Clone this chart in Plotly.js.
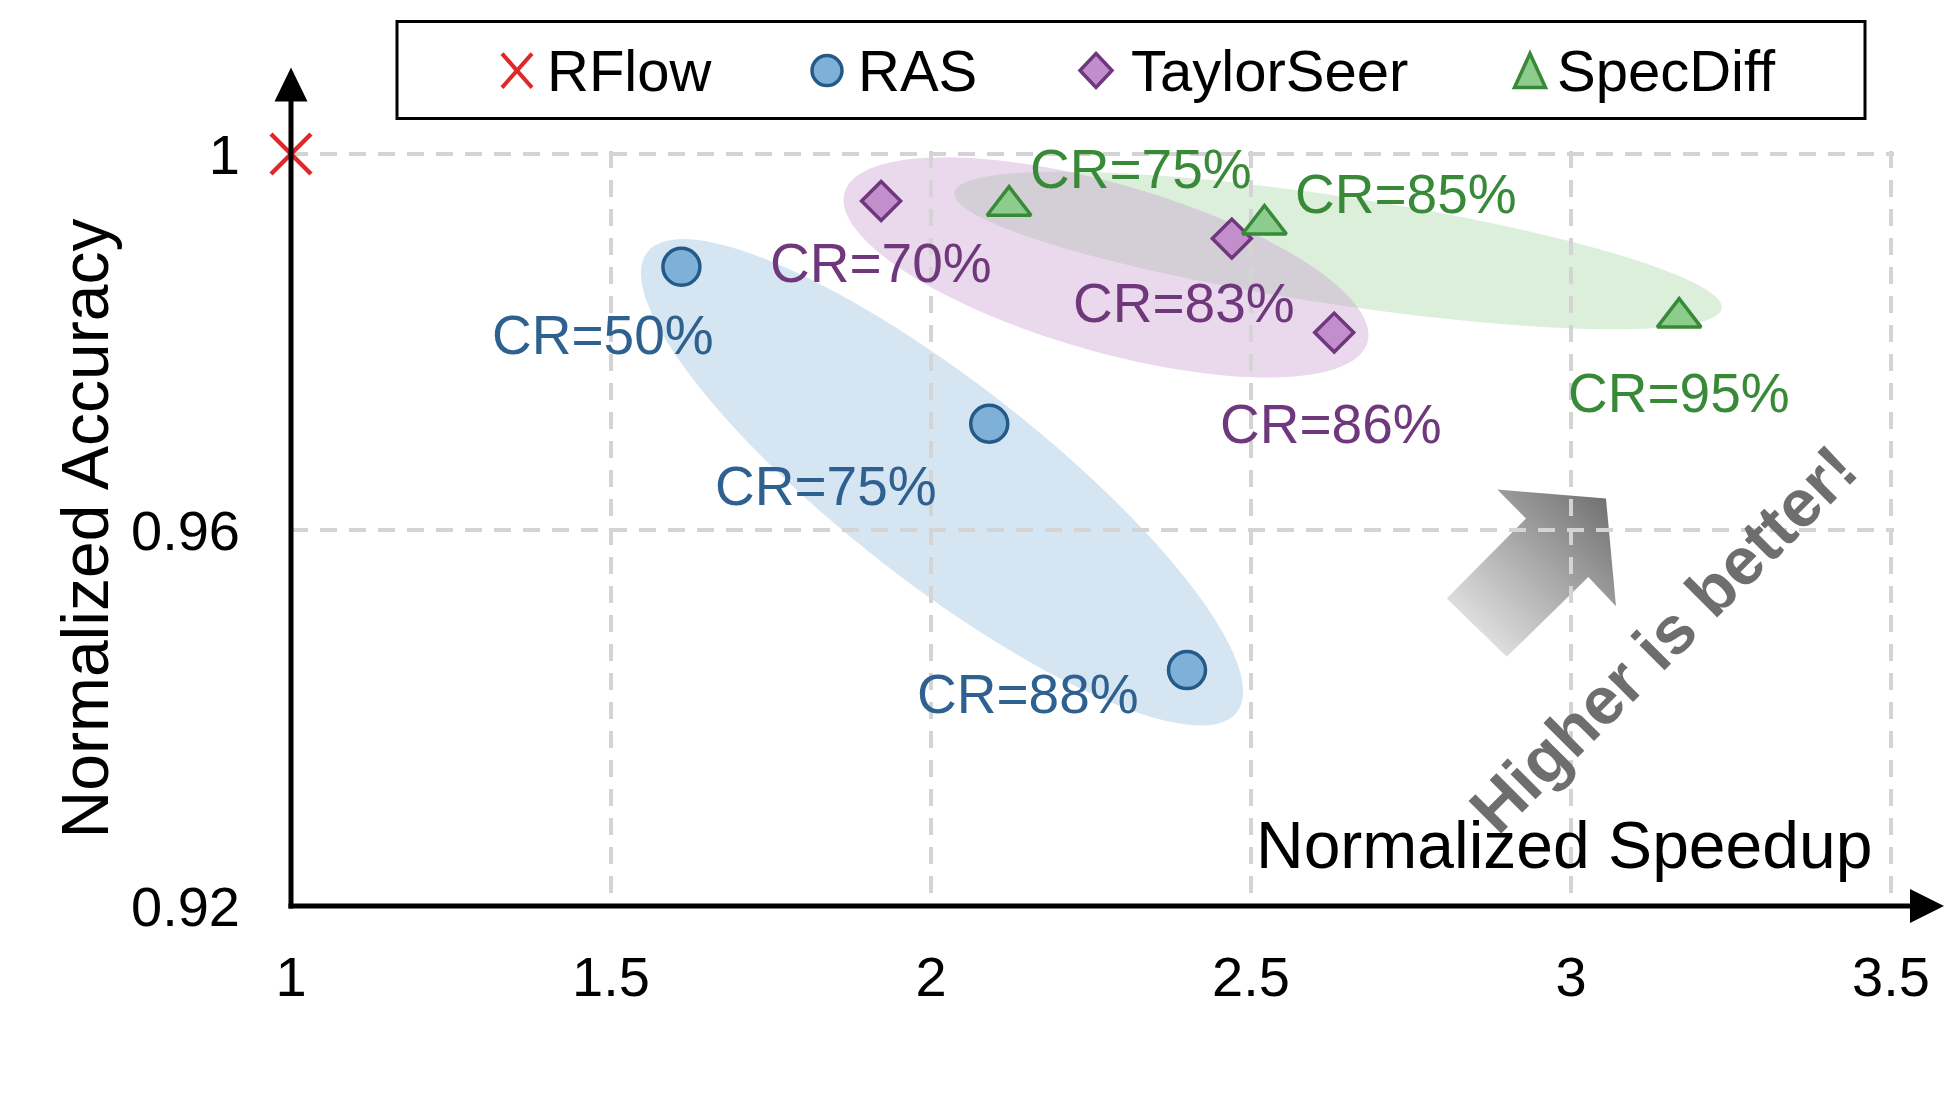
<!DOCTYPE html>
<html><head><meta charset="utf-8">
<script src="https://cdn.plot.ly/plotly-3.0.1.min.js"></script>
<style>html,body{margin:0;padding:0;background:#fff}#chart{width:1960px;height:1120px}</style>
</head><body><div id="chart"></div>
<script>
// ---------------- data ----------------
const seriesNames = ["RFlow", "RAS", "TaylorSeer", "SpecDiff"];
const rflowX = [1];
const rflowY = [1];
const rasX = [1.610, 2.091, 2.400];
const rasY = [0.9880, 0.9713, 0.9451];
const rasLabels = ["CR=50%", "CR=75%", "CR=88%"];
const tsX = [1.922, 2.470, 2.630];
const tsY = [0.9950, 0.9910, 0.9810];
const tsLabels = ["CR=70%", "CR=83%", "CR=86%"];
const sdX = [2.122, 2.521, 3.169];
const sdY = [0.9945, 0.9925, 0.9826];
const sdLabels = ["CR=75%", "CR=85%", "CR=95%"];
const xTicks = [1, 1.5, 2, 2.5, 3, 3.5];
const xTickText = ["1", "1.5", "2", "2.5", "3", "3.5"];
const yTicks = [0.92, 0.96, 1];
const yTickText = ["0.92", "0.96", "1"];

// ---------------- layout constants (styles / positions) ----------------
const FONT = 'Arial, "Liberation Sans", Helvetica, sans-serif';
const W = 1960, H = 1120;
// axis scale: x 1 -> 291px, 3.5 -> 1891px ; y 0.92 -> 906px, 1 -> 153.5px
const XPX = 2.5 / 1600, YPX = 0.08 / 752.5, PADPX = 3;
const XR = [1, 3.5 + PADPX * XPX], YR = [0.92, 1 + PADPX * YPX];
const M = {l: 291, r: 69 - PADPX, t: 153.5 - PADPX, b: 214};
const plotW = W - M.l - M.r, plotH = H - M.t - M.b;
const px2x = p => XR[0] + (p - M.l) / plotW * (XR[1] - XR[0]);
const py2y = p => YR[0] + (H - M.b - p) / plotH * (YR[1] - YR[0]);
const px2paper = p => (p - M.l) / plotW;
const py2paper = p => (H - M.b - p) / plotH;

const C = {
  rflow: '#e02828',
  rasFill: '#7eb0d8', rasLine: '#245a87', rasText: '#2e6190',
  tsFill: '#c28ecc', tsLine: '#70387c', tsText: '#70387c',
  sdFill: '#8ccc8c', sdLine: '#388a38', sdText: '#388a38'
};
// label offsets (px) relative to each point
const rasOff = [[-78, 68], [-163, 62], [-159, 24]];
const tsOff = [[0, 62], [-48, 64], [-3, 91]];
const sdOff = [[132, -37], [142, -31], [0, 75]];

// group ellipses (pixel space: centre, semi-axes, tilt)
const ellipses = [
  {cx: 942, cy: 482, a: 374, b: 100, ang: 38, fill: 'rgba(126,176,216,0.33)'},
  {cx: 1338, cy: 250, a: 388, b: 54, ang: 8.6, fill: 'rgba(135,202,135,0.30)'},
  {cx: 1106, cy: 267, a: 272, b: 84, ang: 16, fill: 'rgba(203,158,208,0.40)'}
];
function ellipsePath(e) {
  const pts = [], t = e.ang * Math.PI / 180, n = 120;
  for (let i = 0; i < n; i++) {
    const u = 2 * Math.PI * i / n;
    const ex = e.a * Math.cos(u), ey = e.b * Math.sin(u);
    const px = e.cx + ex * Math.cos(t) - ey * Math.sin(t);
    const py = e.cy + ex * Math.sin(t) + ey * Math.cos(t);
    pts.push(px2x(px).toFixed(5) + ',' + py2y(py).toFixed(6));
  }
  return 'M' + pts.join('L') + 'Z';
}
function ppath(points) {
  return 'M' + points.map(p => px2paper(p[0]).toFixed(5) + ',' + py2paper(p[1]).toFixed(5)).join('L') + 'Z';
}

// ---------------- traces ----------------
const traces = [
  {type: 'scatter', mode: 'markers', name: seriesNames[0], x: rflowX, y: rflowY,
   cliponaxis: false, hoverinfo: 'x+y',
   marker: {symbol: 'x-thin', size: 40, color: C.rflow, line: {color: C.rflow, width: 4.5}}},
  {type: 'scatter', mode: 'markers', name: seriesNames[1], x: rasX, y: rasY,
   cliponaxis: false, hoverinfo: 'x+y',
   marker: {symbol: 'circle', size: 37, color: C.rasFill, line: {color: C.rasLine, width: 3.5}}},
  {type: 'scatter', mode: 'markers', name: seriesNames[2], x: tsX, y: tsY,
   cliponaxis: false, hoverinfo: 'x+y',
   marker: {symbol: 'diamond', size: 30, color: C.tsFill, line: {color: C.tsLine, width: 3.5}}},
  {type: 'scatter', mode: 'markers', name: seriesNames[3], x: sdX, y: sdY,
   cliponaxis: false, hoverinfo: 'x+y',
   marker: {symbol: 'triangle-up', size: 38, color: C.sdFill, line: {color: C.sdLine, width: 3.5}}}
];

// ---------------- annotations ----------------
const annotations = [];
function addLabels(xs, ys, labels, offs, color) {
  labels.forEach((t, i) => annotations.push({
    x: xs[i], y: ys[i], xref: 'x', yref: 'y', text: t, showarrow: false,
    xshift: offs[i][0], yshift: -offs[i][1], xanchor: 'center', yanchor: 'middle',
    font: {family: FONT, size: 55, color: color}
  }));
}
addLabels(rasX, rasY, rasLabels, rasOff, C.rasText);
addLabels(tsX, tsY, tsLabels, tsOff, C.tsText);
addLabels(sdX, sdY, sdLabels, sdOff, C.sdText);
annotations.push({
  xref: 'paper', yref: 'paper', x: px2paper(1874), y: py2paper(845),
  xanchor: 'right', yanchor: 'middle', showarrow: false, text: 'Normalized Speedup',
  font: {family: FONT, size: 66, color: '#000'}
});
annotations.push({
  xref: 'paper', yref: 'paper', x: px2paper(1663), y: py2paper(638),
  xanchor: 'center', yanchor: 'middle', showarrow: false, textangle: -45,
  text: '<b>Higher is better!</b>',
  font: {family: FONT, size: 67, color: '#6e6e6e'}
});

// ---------------- shapes ----------------
const shapes = ellipses.map(e => ({
  type: 'path', xref: 'x', yref: 'y', path: ellipsePath(e),
  fillcolor: e.fill, line: {width: 0}, layer: 'below'
}));
// axis lines with arrow heads (paper refs so they are not clipped)
shapes.push({type: 'line', xref: 'paper', yref: 'paper', x0: px2paper(288.5), x1: px2paper(1914), y0: py2paper(906), y1: py2paper(906),
  line: {color: '#000', width: 5}, layer: 'above'});
shapes.push({type: 'line', xref: 'paper', yref: 'paper', x0: px2paper(291), x1: px2paper(291), y0: py2paper(908.5), y1: py2paper(98),
  line: {color: '#000', width: 5}, layer: 'above'});
shapes.push({type: 'path', xref: 'paper', yref: 'paper', path: ppath([[1944, 906], [1910, 889], [1910, 923]]),
  fillcolor: '#000', line: {width: 0}, layer: 'above'});
shapes.push({type: 'path', xref: 'paper', yref: 'paper', path: ppath([[291, 67], [274.5, 101], [307.5, 101]]),
  fillcolor: '#000', line: {width: 0}, layer: 'above'});

// ---------------- legend (framed, one row) ----------------
shapes.push({type: 'rect', xref: 'paper', yref: 'paper',
  x0: px2paper(397), x1: px2paper(1865), y0: py2paper(21), y1: py2paper(118),
  line: {color: '#000', width: 3}, fillcolor: 'rgba(0,0,0,0)', layer: 'above'});
const LEG_Y = 70;
const legendKeys = [  // key centre px, text start px
  {kx: 517, tx: 547}, {kx: 827, tx: 858}, {kx: 1096, tx: 1131}, {kx: 1530, tx: 1557}
];
function keyShape(kx, extra) {
  return Object.assign({xref: 'paper', yref: 'paper', xsizemode: 'pixel', ysizemode: 'pixel',
    xanchor: px2paper(kx), yanchor: py2paper(LEG_Y), layer: 'above'}, extra);
}
// RFlow: thin red cross
shapes.push(keyShape(legendKeys[0].kx, {type: 'path', path: 'M-15,17L15,-17M-15,-17L15,17',
  line: {color: C.rflow, width: 4}}));
// RAS: circle
shapes.push(keyShape(legendKeys[1].kx, {type: 'circle', x0: -15, x1: 15, y0: -15, y1: 15,
  fillcolor: C.rasFill, line: {color: C.rasLine, width: 3.5}}));
// TaylorSeer: diamond
shapes.push(keyShape(legendKeys[2].kx, {type: 'path', path: 'M0,17L16,0L0,-17L-16,0Z',
  fillcolor: C.tsFill, line: {color: C.tsLine, width: 3.5}}));
// SpecDiff: triangle
shapes.push(keyShape(legendKeys[3].kx, {type: 'path', path: 'M0,17L15.5,-17L-15.5,-17Z',
  fillcolor: C.sdFill, line: {color: C.sdLine, width: 3.5}}));
seriesNames.forEach((n, i) => annotations.push({
  xref: 'paper', yref: 'paper', x: px2paper(legendKeys[i].tx - 2), y: py2paper(LEG_Y),
  xanchor: 'left', yanchor: 'middle', showarrow: false, text: n,
  font: {family: FONT, size: 58, color: '#000'}
}));

// ---------------- gradient block arrow (decoration) ----------------
const arrowSVG = '<svg xmlns="http://www.w3.org/2000/svg" width="180" height="177" viewBox="1440 485 180 177">' +
  '<defs><linearGradient id="g" gradientUnits="userSpaceOnUse" x1="1468" y1="640" x2="1605" y2="500">' +
  '<stop offset="0" stop-color="#e6e6e6"/><stop offset="1" stop-color="#747272"/></linearGradient></defs>' +
  '<path d="M1446.7,598.3 L1506.7,656.7 L1588.3,576.7 L1616,606 L1606,498.3 L1497.3,489.3 L1526,518.3 Z" fill="url(#g)"/></svg>';
const images = [{
  source: 'data:image/svg+xml;charset=utf-8,' + encodeURIComponent(arrowSVG),
  xref: 'paper', yref: 'paper', x: px2paper(1440), y: py2paper(485),
  sizex: 180 / plotW, sizey: 177 / plotH, sizing: 'stretch',
  xanchor: 'left', yanchor: 'top', layer: 'below'
}];

const axisCommon = {
  showgrid: true, gridcolor: '#d4d4d4', gridwidth: 3.5, griddash: '17px,12px',
  zeroline: false, showline: false, ticks: '', fixedrange: true,
  tickfont: {family: FONT, size: 56, color: '#000'}
};

const layout = {
  width: W, height: H, autosize: false,
  margin: {l: M.l, r: M.r, t: M.t, b: M.b, pad: 0},
  paper_bgcolor: '#fff', plot_bgcolor: '#fff',
  font: {family: FONT, size: 56, color: '#000'},
  showlegend: false,
  xaxis: Object.assign({}, axisCommon, {range: XR, tickmode: 'array', tickvals: xTicks, ticktext: xTickText,
    ticklabelstandoff: 33}),
  yaxis: Object.assign({}, axisCommon, {range: YR, tickmode: 'array', tickvals: yTicks, ticktext: yTickText,
    ticklabelstandoff: 50,
    title: {text: 'Normalized Accuracy', font: {family: FONT, size: 66, color: '#000'}, standoff: 0}}),
  annotations: annotations,
  shapes: shapes,
  images: images
};

Plotly.newPlot('chart', traces, layout, {staticPlot: true, displayModeBar: false});
</script>
</body></html>
